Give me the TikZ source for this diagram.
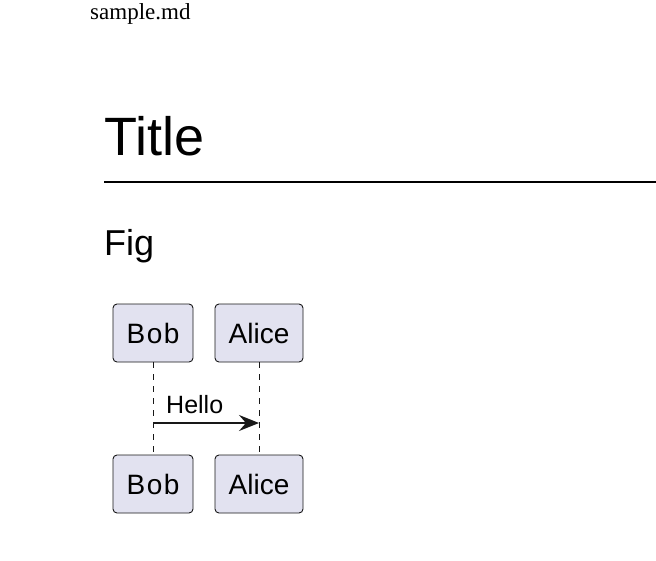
\documentclass[tikz,border=0pt]{standalone}
\usepackage{fontspec}
\setmainfont{Liberation Serif}
\newfontfamily\uisans{Liberation Sans}
\usetikzlibrary{positioning}
\usetikzlibrary{arrows.meta}
\definecolor{partfill}{HTML}{E2E2F0}
\definecolor{partline}{HTML}{181818}

\tikzset{
    participant/.style={draw=partline,fill=partfill,rounded corners=4pt,line width=0.9pt,
        minimum height=58pt,inner sep=0pt,font=\uisans\fontsize{28}{28}\selectfont},
    lifeline/.style={draw=partline,line width=0.9pt,dash pattern=on 6pt off 6pt},
    plain/.style={anchor=base west,inner sep=0pt},
}

\begin{document}
\begin{tikzpicture}[x=1pt,y=-1pt]
    \useasboundingbox[fill=white] (0,0) rectangle (656,560);

    % page header and headings
    \node[plain,font=\fontsize{23}{23}\selectfont] (filename) at (90,19) {sample.md};
    \node[plain,font=\uisans\fontsize{54}{54}\selectfont] (title) at (104,155) {Title};
    \draw[line width=1.8pt] (104,182) -- (656,182);
    \node[plain,font=\uisans\fontsize{36}{36}\selectfont] (fig) at (104,255) {Fig};

    % participants
    \node[participant,minimum width=80pt] (bobtop) at (153,333) {B\kern1.5pt o\kern1.5pt b};
    \node[participant,minimum width=88pt] (alicetop) at (259,333) {Alice};
    \node[participant,minimum width=80pt] (bobbot) at (153,484) {B\kern1.5pt o\kern1.5pt b};
    \node[participant,minimum width=88pt] (alicebot) at (259,484) {Alice};

    \draw[lifeline] (bobtop.south) -- (bobbot.north);
    \draw[lifeline] (alicetop.south) -- (alicebot.north);

    % message
    \coordinate (msgrow) at (0,423);
    \draw[partline,line width=1.8pt,-{Stealth[length=20pt,width=16pt,inset=7pt]}]
        (bobtop.south |- msgrow) -- (alicetop.south |- msgrow);
    \node[plain,font=\uisans\fontsize{25}{25}\selectfont] (hello) at (166,413) {Hello};
\end{tikzpicture}
\end{document}
